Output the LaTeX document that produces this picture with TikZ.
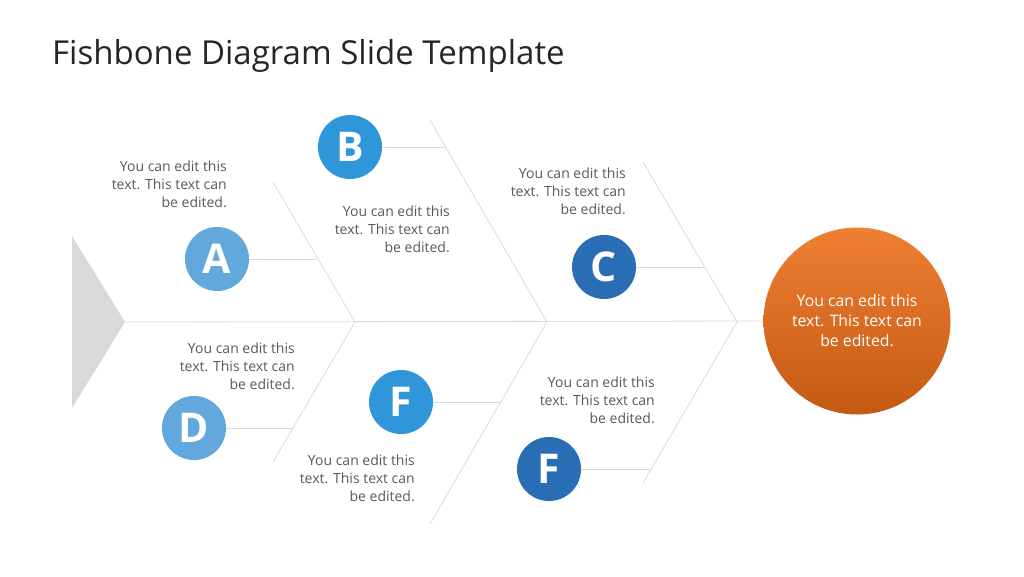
\documentclass[tikz,border=0pt]{standalone}
\usepackage{fontspec}
\setmainfont{Open Sans}
\usepackage{tikz}
\usetikzlibrary{calc}
\definecolor{bonegray}{HTML}{D9D9D9}
\definecolor{textgray}{HTML}{595959}
\definecolor{titlegray}{HTML}{262626}
\definecolor{blueA}{HTML}{62A8DC}
\definecolor{blueB}{HTML}{2F96DA}
\definecolor{blueC}{HTML}{296EB4}
\definecolor{orangetop}{HTML}{EE7F33}
\definecolor{orangebot}{HTML}{C45A12}
\tikzset{
  bone/.style={draw=bonegray, line width=0.8pt},
  letter/.style={shape=circle, inner sep=0pt, minimum size=64pt, text=white,
    font=\fontsize{41}{41}\selectfont\bfseries},
  blurb/.style={anchor=east, inner sep=0pt, align=right, text=textgray,
    font=\fontsize{14}{18}\selectfont}
}
\newcommand{\letternode}[5]{\node[letter, fill=#4] (#1) at ( #2 , #3 ) {#5};}
\newcommand{\blurbnode}[3]{\node[blurb] (#1) at ( #2 , #3 ) {You can edit this\\text. This text can\\be edited.};}

\begin{document}
\begin{tikzpicture}[x=1pt, y=-1pt]
        \useasboundingbox (0,0) rectangle (1024,576);
        %title
        \node[anchor=base west, inner sep=0pt, text=titlegray,
          font=\fontsize{33}{33}\selectfont] (title) at (52,64) {Fishbone Diagram Slide Template};
        %head and spine
        \fill[bonegray] (72,236) -- (125,322) -- (72,408) -- cycle;
        \coordinate (tail) at (125,322);
        \coordinate (j1) at (355,322);
        \coordinate (j2) at (547,322);
        \coordinate (j3) at (737,322);
        \coordinate (u1) at (273,182);
        \coordinate (l1) at (273,462);
        \coordinate (u2) at (430,120);
        \coordinate (l2) at (430,524);
        \coordinate (u3) at (643,162);
        \coordinate (l3) at (643,483);
        \node[shape=circle, inner sep=0pt, minimum size=187pt, top color=orangetop,
          bottom color=orangebot, draw=none, text=white, align=center,
          font=\fontsize{15.8}{20}\selectfont] (effect) at (857,321)
          {You can edit this\\text. This text can\\be edited.};
        %edges
        \draw[bone] (tail) -- (effect.west);
        \draw[bone] (u1) -- (j1) -- (l1);
        \draw[bone] (u2) -- (j2) -- (l2);
        \draw[bone] (u3) -- (j3) -- (l3);
        %nodes
        \letternode{A}{217}{259}{blueA}{A}
        \letternode{B}{350}{147}{blueB}{B}
        \letternode{C}{604}{267}{blueC}{C}
        \letternode{D}{194}{428}{blueA}{D}
        \letternode{F1}{401}{402}{blueB}{F}
        \letternode{F2}{549}{469}{blueC}{F}
        \coordinate (eA) at (317,259);
        \coordinate (eB) at (446,147);
        \coordinate (eC) at (704,267);
        \coordinate (eD) at (293,428);
        \coordinate (eF1) at (501,402);
        \coordinate (eF2) at (650,469);
        \draw[bone] (A) -- (eA);
        \draw[bone] (B) -- (eB);
        \draw[bone] (C) -- (eC);
        \draw[bone] (D) -- (eD);
        \draw[bone] (F1) -- (eF1);
        \draw[bone] (F2) -- (eF2);
        %texts
        \blurbnode{tA}{227}{184}
        \blurbnode{tB}{450}{229}
        \blurbnode{tC}{626}{191}
        \blurbnode{tD}{295}{366}
        \blurbnode{tF1}{415}{478}
        \blurbnode{tF2}{655}{400}
\end{tikzpicture}
\end{document}
